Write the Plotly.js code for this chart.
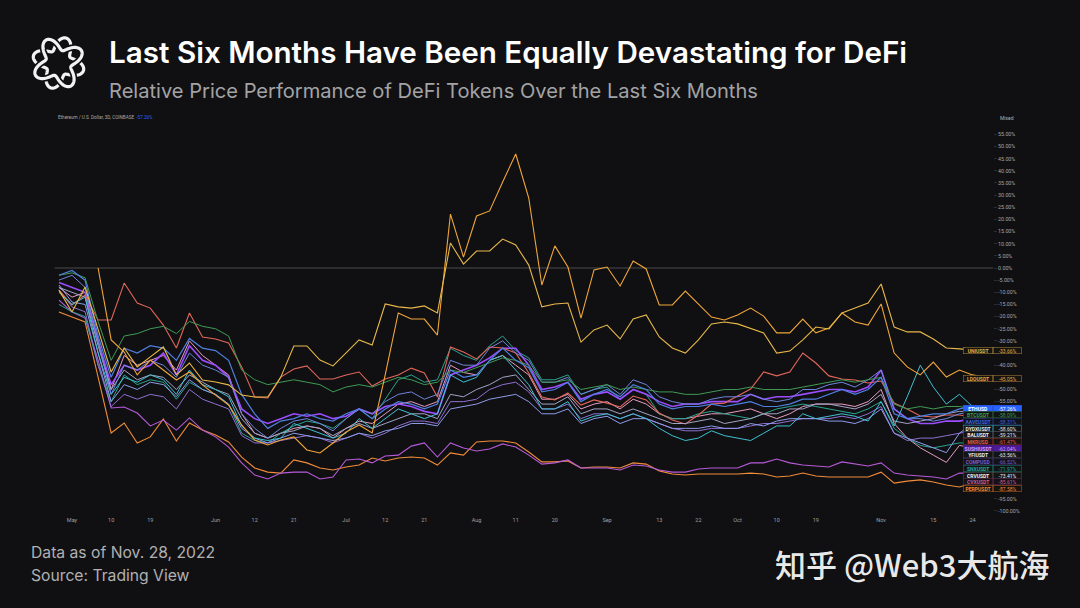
<!DOCTYPE html>
<html><head><meta charset="utf-8">
<script src="https://cdn.plot.ly/plotly-3.0.1.min.js"></script>
<style>
html,body{margin:0;padding:0;background:#101012;overflow:hidden;}
#chart{width:1080px;height:608px;}
#logo{position:absolute;left:0;top:0;pointer-events:none;}
</style>
</head><body>
<div id="chart"></div>
<svg id="logo" width="130" height="130" xmlns="http://www.w3.org/2000/svg"></svg>
<script>
// ---------- data (relative % performance, 3-day bars from 2022-04-28) ----------
const startDate = [2022, 3, 28];   // Apr 28 2022 (month index 3)
const barDays = 3;

const uni = [-9.1,-18.1,-7.8,-25.5,-42.8,-32.9,-40.7,-36.6,-32.5,-44.0,
 -39.1,-46.1,-46.9,-48.1,-52.3,-53.1,-53.1,-44.9,-32.1,-32.1,
 -37.9,-40.3,-35.0,-29.6,-31.7,-14.8,-16.0,-16.5,-15.6,-18.5,
 10.3,1.6,7.0,7.0,11.9,9.5,1.2,-16.0,-14.8,-14.4,
 -30.5,-25.5,-23.5,-29.2,-21.0,-19.3,-28.4,-32.9,-35.0,-29.6,
 -23.0,-22.2,-23.0,-24.7,-26.7,-35.0,-34.2,-29.6,-24.3,-25.1,
 -18.5,-16.5,-14.4,-6.6,-24.3,-26.3,-26.3,-29.2,-32.9,-33.3,
 -33.7,-33.66];
const ldo = [null,null,null,0,-29.6,-34.6,-44.0,-37.9,-42.0,-46.1,
 -42.8,-48.1,-52.3,-56.4,-64.6,-70.8,-72.8,-70.8,-69.5,-74.9,
 -76.1,-72.0,-67.5,-64.6,-67.9,-44.0,-18.5,-21.0,-21.0,-27.6,
 22.2,4.5,21.4,23.5,35.4,46.9,28.8,-7.0,9.1,0.4,
 -20.6,-0.8,0.4,-7.4,2.9,-0.4,-15.2,-15.2,-9.5,-14.8,
 -20.2,-21.4,-19.3,-16.5,-19.8,-26.7,-26.7,-21.0,-26.7,-24.7,
 -18.5,-22.2,-23.5,-14.8,-35.0,-40.7,-44.0,-38.7,-44.9,-42.0,
 -44.0,-45.05];
const eth = [-3,-1,-5,-28,-45,-33,-35,-32,-33,-38,
 -29,-33,-34,-38,-52,-60,-66,-63,-62,-60,
 -62,-63,-60,-58,-62,-58,-55,-56,-58,-56,
 -42,-45,-44,-38,-33,-38,-41,-51,-50,-47,
 -55,-52,-50,-53,-48,-50,-56,-58,-57,-57,
 -56,-57,-56,-55,-57,-57,-56,-54,-54,-52,
 -50,-52,-50,-45,-60,-62,-61,-60,-60,-58,
 -57,-57.26];
const btc = [-3,-2,-4,-22,-38,-28,-27,-25,-24,-27,
 -22,-24,-25,-28,-42,-46,-48,-47,-46,-47,
 -48,-51,-49,-48,-49,-47,-45,-46,-48,-47,
 -42,-43,-41,-39,-37,-38,-40,-47,-47,-46,
 -50,-49,-48,-50,-49,-50,-51,-51,-52,-52,
 -51,-50,-50,-49,-50,-50,-50,-49,-48,-47,
 -46,-47,-46,-45,-56,-58,-57,-58,-57,-57,
 -58,-58.09];
const aave = [-5,-3,-8,-30,-52,-40,-42,-38,-40,-45,
 -35,-40,-42,-45,-60,-66,-70,-66,-63,-62,
 -64,-67,-62,-58,-60,-55,-52,-51,-54,-52,
 -38,-40,-40,-33,-30,-35,-38,-47,-47,-45,
 -52,-50,-48,-52,-46,-48,-53,-55,-56,-56,
 -54,-53,-53,-52,-54,-55,-54,-50,-50,-48,
 -47,-49,-46,-42,-58,-62,-62,-63,-62,-60,
 -59,-58.31];
const dydx = [-10,-15,-12,-35,-52,-45,-47,-44,-46,-52,
 -42,-48,-50,-53,-65,-70,-71,-70,-64,-66,
 -68,-70,-68,-62,-66,-62,-58,-60,-62,-60,
 -44,-47,-45,-38,-36,-42,-48,-58,-58,-55,
 -63,-61,-60,-62,-60,-62,-66,-69,-71,-70,
 -67,-69,-70,-71,-68,-65,-65,-60,-62,-61,
 -60,-61,-63,-55,-65,-53,-40,-49,-56,-52,
 -57,-58.60];
const bal = [-8,-10,-12,-32,-50,-42,-46,-44,-45,-50,
 -44,-47,-50,-52,-62,-68,-70,-68,-67,-65,
 -66,-69,-66,-64,-66,-64,-62,-60,-60,-62,
 -52,-53,-50,-48,-45,-44,-50,-56,-56,-53,
 -60,-58,-58,-60,-58,-60,-62,-64,-64,-63,
 -62,-64,-63,-62,-60,-60,-58,-58,-56,-56,
 -57,-58,-56,-52,-63,-64,-63,-62,-60,-59,
 -59,-59.21];
const mkr = [-9.1,-15.2,-11.1,-21.4,-21.4,-6.2,-14.4,-16.5,-23.5,-32.9,
 -18.5,-28.4,-29.2,-30.9,-40.7,-53.1,-53.5,-44.9,-41.6,-40.3,
 -45.7,-45.7,-44.0,-42.8,-48.6,-45.7,-44.0,-41.2,-43.2,-53.1,
 -32.5,-34.6,-37.4,-32.5,-32.9,-35.0,-43.2,-53.1,-54.3,-51.4,
 -56.4,-54.3,-55.6,-57.2,-52.7,-54.3,-59.7,-62.6,-64.2,-60.5,
 -56.0,-55.6,-52.7,-49.8,-42.8,-44.4,-42.8,-35.0,-39.1,-44.4,
 -45.7,-46.1,-47.3,-46.5,-55.6,-58.0,-60.9,-61.3,-60.5,-60.5,
 -61.3,-61.47];
const sushi = [-6,-8,-10,-30,-48,-40,-42,-40,-35,-44,
 -32,-38,-40,-45,-58,-62,-64,-62,-60,-61,
 -60,-62,-61,-58,-60,-57,-56,-57,-59,-60,
 -44,-42,-40,-37,-33,-33,-40,-50,-49,-47,
 -54,-52,-51,-54,-50,-52,-55,-57,-56,-56,
 -55,-55,-55,-52,-54,-53,-53,-52,-51,-50,
 -50,-51,-49,-42,-58,-62,-64,-64,-63,-63,
 -62,-62.04];
const yfi = [-7,-14,-15,-35,-55,-48,-50,-47,-48,-53,
 -46,-50,-52,-56,-66,-70,-72,-70,-68,-69,
 -70,-71,-70,-68,-69,-67,-66,-64,-64,-65,
 -58,-57,-56,-54,-53,-52,-55,-60,-60,-58,
 -64,-62,-61,-64,-62,-62,-64,-66,-66,-66,
 -65,-66,-66,-64,-65,-63,-62,-62,-62,-63,
 -63,-64,-62,-58,-68,-70,-72,-74,-76,-68,
 -64,-63.56];
const comp = [-9,-16,-18,-40,-57,-52,-54,-52,-53,-58,
 -50,-54,-56,-58,-69,-72,-72,-71,-70,-69,
 -70,-72,-70,-68,-70,-68,-65,-63,-63,-64,
 -55,-55,-54,-50,-48,-47,-51,-58,-58,-56,
 -62,-60,-60,-62,-60,-62,-64,-66,-67,-67,
 -66,-66,-66,-65,-64,-64,-63,-62,-62,-62,
 -61,-62,-60,-57,-68,-71,-70,-70,-69,-68,
 -67,-66.52];
const snx = [-15,-18,-20,-40,-55,-44,-48,-46,-47,-54,
 -47,-50,-52,-56,-68,-71,-72,-68,-65,-63,
 -64,-66,-62,-58,-62,-54,-46,-44,-47,-46,
 -33,-36,-38,-32,-28,-34,-37,-46,-46,-44,
 -52,-50,-49,-54,-50,-52,-60,-62,-62,-60,
 -59,-60,-61,-62,-60,-58,-57,-56,-57,-58,
 -59,-60,-58,-55,-66,-70,-73,-74,-73,-72,
 -72,-71.97];
const crv = [-8,-12,-10,-30,-50,-36,-40,-38,-36,-42,
 -30,-36,-40,-44,-60,-68,-70,-68,-66,-65,
 -66,-70,-66,-63,-64,-60,-56,-55,-57,-55,
 -40,-43,-44,-38,-36,-40,-44,-54,-54,-52,
 -58,-56,-55,-58,-54,-56,-60,-62,-62,-61,
 -60,-60,-59,-58,-60,-62,-60,-57,-56,-56,
 -56,-57,-55,-50,-64,-70,-74,-77,-80,-73,
 -74,-73.41];
const cvx = [-13.2,-18.1,-20.6,-37.9,-57.6,-57.2,-59.7,-65.0,-62.6,-66.7,
 -61.7,-66.7,-69.5,-73.7,-80.2,-85.2,-86.8,-84.4,-84.0,-84.0,
 -86.8,-86.0,-79.0,-78.6,-80.2,-77.4,-77.0,-73.3,-72.0,-77.8,
 -72.0,-74.1,-75.3,-74.5,-72.4,-73.7,-77.0,-80.7,-80.2,-79.0,
 -82.3,-82.3,-82.3,-83.1,-81.1,-81.5,-83.1,-84.0,-84.0,-82.7,
 -82.3,-82.3,-82.3,-80.2,-80.2,-78.6,-80.2,-81.1,-81.5,-81.9,
 -79.8,-80.7,-81.5,-80.2,-84.4,-85.2,-85.6,-86.0,-86.8,-84.4,
 -84.4,-85.61];
const perp = [-18.1,-20.2,-22.2,-44.9,-67.9,-63.8,-72.0,-69.5,-62.1,-71.2,
 -63.8,-66.7,-68.7,-71.6,-77.8,-82.3,-84.0,-84.4,-79.0,-80.2,
 -82.3,-83.1,-81.9,-81.1,-78.2,-79.4,-78.2,-77.8,-78.2,-81.1,
 -76.1,-77.0,-71.6,-71.2,-71.2,-72.0,-75.7,-79.8,-79.8,-79.4,
 -82.3,-81.9,-81.9,-82.3,-80.2,-80.7,-83.5,-84.8,-85.2,-84.8,
 -84.8,-84.8,-84.8,-84.4,-84.8,-86.0,-85.6,-84.4,-85.6,-86.0,
 -86.0,-86.0,-86.0,-84.0,-88.5,-87.7,-87.2,-88.1,-89.3,-90.1,
 -88.5,-87.58];

// series names, in label order (top to bottom on the right)
const seriesNames = ['UNIUSDT','LDOUSDT','ETHUSD','BTCUSDT','AAVEUSDT','DYDXUSDT','BALUSDT',
  'MKRUSD','SUSHIUSDT','YFIUSDT','COMPUSD','SNXUSDT','CRVUSDT','CVXUSDT','PERPUSDT'];
const seriesValues = [uni, ldo, eth, btc, aave, dydx, bal, mkr, sushi, yfi, comp, snx, crv, cvx, perp];

const xTickDates = ['2022-05-01','2022-05-10','2022-05-19','2022-06-03','2022-06-12','2022-06-21',
  '2022-07-03','2022-07-12','2022-07-21','2022-08-02','2022-08-11','2022-08-20','2022-09-01',
  '2022-09-13','2022-09-22','2022-10-01','2022-10-10','2022-10-19','2022-11-03','2022-11-15','2022-11-24'];
const xTickText = ['May','10','19','Jun','12','21','Jul','12','21','Aug','11','20','Sep','13','22','Oct','10','19','Nov','15','24'];
const yTickVals = [55,50,45,40,35,30,25,20,15,10,5,0,-5,-10,-15,-20,-25,-30,-40,-50,-55,-95,-100];
const baselineStart = '2022-04-27';

// ---------- styles ----------
const lineColors = ['#e8b84a','#f0a63a','#4f7fe0','#3f9a55','#6f84dc','#3fc0d2','#a3a3c6',
  '#e2665a','#9b4dff','#8e9bea','#8f70d2','#2aa38f','#e89cc0','#b65ad8','#f08c3a'];
const lineWidths = [1.1,1.1,1.2,1,1,1,1,1.1,1.6,1,1,1,1,1.1,1.1];
const labelStyle = [
  {fg:'#e0b24a', bg:'#141311', bd:'#9c7c34'},
  {fg:'#e0a846', bg:'#141311', bd:'#9c7434'},
  {fg:'#ffffff', bg:'#2962ff', bd:'#2962ff'},
  {fg:'#3f9a55', bg:'#101412', bd:'#2c5c37'},
  {fg:'#3f63d8', bg:'#10121a', bd:'#23346b'},
  {fg:'#e6e6e6', bg:'#111416', bd:'#2d8b9a'},
  {fg:'#ececec', bg:'#131316', bd:'#505058'},
  {fg:'#e05a48', bg:'#1a1111', bd:'#7a2d26'},
  {fg:'#c7a6ff', bg:'#4d1b96', bd:'#4d1b96'},
  {fg:'#ececec', bg:'#131316', bd:'#3c3c44'},
  {fg:'#7a5cc8', bg:'#131218', bd:'#3a2d62'},
  {fg:'#26a69a', bg:'#101514', bd:'#1d6b63'},
  {fg:'#f2f2f2', bg:'#141414', bd:'#4a4a4a'},
  {fg:'#c2619c', bg:'#161115', bd:'#5c2a4a'},
  {fg:'#f08c3a', bg:'#17120e', bd:'#a05a24'}
];
const labelPy = [350,378,408,414.7,421.4,428.1,434.8,441.5,448.2,454.9,461.6,468.3,475,481.7,488.4];
const drawOrder = [14,13,12,11,10,9,8,7,6,5,4,3,2,1,0];

// ---------- geometry helpers (plot area in page pixels) ----------
const PL = 40, PR = 993, PT = 117, PB = 515;
const px = x => (x - PL) / (PR - PL);
const py = y => (PB - y) / (PB - PT);
const xRange = ['2022-04-23 15:27','2022-11-28 17:17'];

const dates = [];
for (let k = 0; k < uni.length; k++) {
  const d = new Date(Date.UTC(startDate[0], startDate[1], startDate[2] + barDays * k));
  dates.push(d.toISOString().slice(0, 10));
}

const traces = drawOrder.map(i => ({
  type: 'scatter', mode: 'lines', x: dates, y: seriesValues[i], name: seriesNames[i],
  line: {color: lineColors[i], width: lineWidths[i]}, hoverinfo: 'skip', connectgaps: false
}));

const fmt = v => v.toFixed(2) + '%';
const annotations = [];
// titles
annotations.push({xref:'paper',yref:'paper',x:px(107),y:py(52),xanchor:'left',yanchor:'middle',showarrow:false,
  text:'Last Six Months Have Been Equally Devastating for DeFi',
  font:{family:'Inter, sans-serif',size:29.6,color:'#ffffff',weight:600}});
annotations.push({xref:'paper',yref:'paper',x:px(107),y:py(91),xanchor:'left',yanchor:'middle',showarrow:false,
  text:'Relative Price Performance of DeFi Tokens Over the Last Six Months',
  font:{family:'Inter, sans-serif',size:20.1,color:'#a3a3a6'}});
annotations.push({xref:'paper',yref:'paper',x:px(29),y:py(552),xanchor:'left',yanchor:'middle',showarrow:false,
  text:'Data as of Nov. 28, 2022', font:{family:'Inter, sans-serif',size:15.7,color:'#b0b0b3'}});
annotations.push({xref:'paper',yref:'paper',x:px(29),y:py(575),xanchor:'left',yanchor:'middle',showarrow:false,
  text:'Source: Trading View', font:{family:'Inter, sans-serif',size:15.7,color:'#b0b0b3'}});
annotations.push({xref:'paper',yref:'paper',x:px(773),y:py(563),xanchor:'left',yanchor:'middle',showarrow:false,
  text:'知乎 @Web3大航海', font:{family:'Noto Sans CJK SC, sans-serif',size:31,color:'rgba(255,255,255,0.93)',weight:500}});
// TradingView header
annotations.push({xref:'paper',yref:'paper',x:px(56),y:py(118),xanchor:'left',yanchor:'middle',showarrow:false,
  text:'Ethereum / U.S. Dollar, 3D, COINBASE  <span style="color:#2962ff">' + fmt(eth[eth.length-1]) + '</span>',
  font:{family:'Roboto, sans-serif',size:4.6,color:'#a8a8a8'}});
annotations.push({xref:'paper',yref:'paper',x:px(998),y:py(118),xanchor:'left',yanchor:'middle',showarrow:false,
  text:'Mixed', font:{family:'Roboto, sans-serif',size:5,color:'#b0b0b0'}});
// end labels
seriesNames.forEach((n, i) => {
  const s = labelStyle[i];
  const vals = seriesValues[i];
  annotations.push({xref:'paper',yref:'paper',x:px(977.5),y:py(labelPy[i]),xanchor:'center',yanchor:'middle',
    showarrow:false,text:n,width:29,height:6,bgcolor:s.bg,bordercolor:s.bd,borderwidth:0.6,borderpad:0,
    font:{family:'Roboto, sans-serif',size:5,color:s.fg,weight:700}});
  annotations.push({xref:'paper',yref:'paper',x:px(1007.5),y:py(labelPy[i]),xanchor:'center',yanchor:'middle',
    showarrow:false,text:fmt(vals[vals.length-1]),width:28,height:6,bgcolor:s.bg,bordercolor:s.bd,borderwidth:0.6,borderpad:0,
    font:{family:'Roboto, sans-serif',size:5,color:s.fg}});
});

const layout = {
  width: 1080, height: 608,
  paper_bgcolor: '#101012', plot_bgcolor: '#101012',
  margin: {l: PL, r: 1080 - PR, t: PT, b: 608 - PB, pad: 0},
  showlegend: false,
  xaxis: {type:'date', range:xRange, tickvals:xTickDates, ticktext:xTickText,
    showgrid:false, zeroline:false, showline:false, ticks:'', tickfont:{family:'Roboto, sans-serif',size:5.5,color:'#a0a0a0'},
    fixedrange:true},
  yaxis: {range:[-101.65, 62.14], side:'right', tickvals:yTickVals,
    ticktext:yTickVals.map(v => v.toFixed(2) + '%'),
    showgrid:false, zeroline:false, showline:false,
    ticks:'outside', ticklen:3, tickcolor:'#2c2c30',
    tickfont:{family:'Roboto, sans-serif',size:5.3,color:'#a5a5a8'}, fixedrange:true},
  shapes: [{type:'line', xref:'x', yref:'y', x0:baselineStart, x1:xRange[1], y0:0, y1:0,
    line:{color:'#4a4a4d', width:1}, layer:'below'}],
  annotations: annotations
};

Plotly.newPlot('chart', traces, layout, {displayModeBar:false, staticPlot:true});

// ---------- logo (two-strand braided ring) ----------
(function(){
  const svg = document.getElementById('logo');
  const ns = 'http://www.w3.org/2000/svg';
  const cx = 58.5, cy = 63, R = 19.5, A = 6.6, lobes = 4, steps = 240;
  [1, -1].forEach((sgn) => {
    let d = '';
    for (let s = 0; s <= steps; s++) {
      const t = s / steps * 2 * Math.PI;
      const r = R + sgn * A * Math.sin(lobes * t + Math.PI / 8);
      const x = cx + r * Math.cos(t), y = cy + r * Math.sin(t);
      d += (s === 0 ? 'M' : 'L') + x.toFixed(2) + ' ' + y.toFixed(2);
    }
    const under = document.createElementNS(ns, 'path');
    under.setAttribute('d', d); under.setAttribute('fill', 'none');
    under.setAttribute('stroke', '#101012'); under.setAttribute('stroke-width', 6.5);
    const p = document.createElementNS(ns, 'path');
    p.setAttribute('d', d); p.setAttribute('fill', 'none');
    p.setAttribute('stroke', '#f2f2f2'); p.setAttribute('stroke-width', 3.2);
    p.setAttribute('stroke-linejoin', 'round');
    svg.appendChild(under); svg.appendChild(p);
  });
})();
</script>
</body></html>
